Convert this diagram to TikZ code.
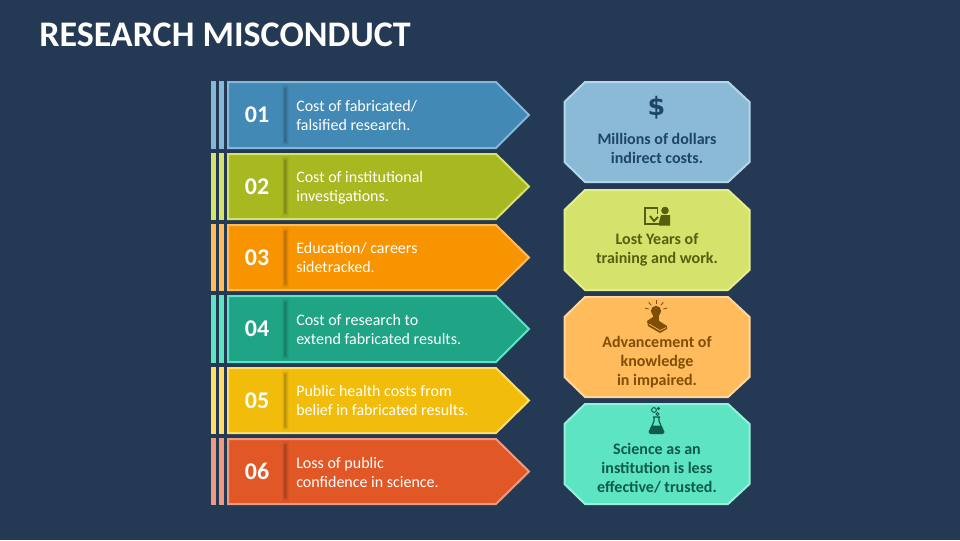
\documentclass[tikz,border=0pt]{standalone}
\usepackage{fontspec}
\setmainfont{Carlito}
\newfontfamily\iconfont{DejaVu Sans}
\definecolor{bg}{HTML}{243A54}
\definecolor{fa}{HTML}{4389B5}\definecolor{ba}{HTML}{85B8D6}
\definecolor{fb}{HTML}{A8B820}\definecolor{bb}{HTML}{D5E26B}
\definecolor{fc}{HTML}{F79400}\definecolor{bc}{HTML}{FFBB5C}
\definecolor{fd}{HTML}{1FA586}\definecolor{bd}{HTML}{5DE4C3}
\definecolor{fe}{HTML}{F2BC0A}\definecolor{be}{HTML}{FFDD66}
\definecolor{ff}{HTML}{E15726}\definecolor{bf}{HTML}{EE9A80}
\definecolor{oa}{HTML}{8ABAD6}\definecolor{la}{HTML}{B5D6EA}\definecolor{ta}{HTML}{1F4565}
\definecolor{ob}{HTML}{D5E26B}\definecolor{lb}{HTML}{E5EE8F}\definecolor{tb}{HTML}{55600F}
\definecolor{oc}{HTML}{FFBB5C}\definecolor{lc}{HTML}{FFD79A}\definecolor{tc}{HTML}{7F4F05}
\definecolor{od}{HTML}{5DE4C3}\definecolor{ld}{HTML}{97F0DA}\definecolor{td}{HTML}{0F5A48}
\tikzset{
  x=0.75pt,y=-0.75pt,
  arrowbox/.style={line width=1.5pt,miter limit=10},
  octa/.style={line width=1.5pt,line join=miter},
  numtext/.style={text=white,font=\fontsize{18}{20}\bfseries\selectfont,inner sep=0pt},
  bodytext/.style={text=white,font=\fontsize{12}{14.25}\selectfont,align=left,anchor=west,inner sep=0pt},
  octatext/.style={font=\fontsize{12}{14.25}\bfseries\selectfont,align=center,inner sep=0pt},
}
\newcommand{\rowitem}[8]{%
 \fill[#4] (211,#1-1) rectangle (216,#2+1);
 \fill[#4] (219,#1-1) rectangle (224,#2+1);
 \draw[arrowbox,draw=#4,fill=#3] (228,#1) -- (496,#1) -- (529,{(#1+#2)/2}) -- (496,#2) -- (228,#2) -- cycle;
 \foreach \w/\o/\e in {7/0.03/0,5/0.05/4,3/0.08/6,1.5/0.08/8}{
   \fill[black,opacity=\o] (285-\w/2,#1+2+\e/2) rectangle (285+\w/2,#2-2-\e/2);
 }
 \node[numtext] (num#7) at (257,{(#1+#2)/2}) {#5};
 \node[bodytext] (txt#7) at (296,#8) {#6};
}
\newcommand{\octagon}[4]{%
 \draw[octa,draw=#4,fill=#3] (585,#1) -- (728,#1) -- (749.5,#1+20) -- (749.5,#2-20) -- (728,#2) -- (585,#2) -- (564.5,#2-20) -- (564.5,#1+20) -- cycle;
}
\begin{document}
\begin{tikzpicture}
\useasboundingbox (0,0) rectangle (960,540);
\fill[bg] (0,0) rectangle (960,540);
\node[anchor=west,inner sep=0pt,text=white,font=\fontsize{27}{30}\bfseries\selectfont] (title) at (39,34.5) {RESEARCH MISCONDUCT};

\rowitem{82}{148}{fa}{ba}{01}{Cost of fabricated/\\falsified research.}{a}{115.5}
\rowitem{154}{219}{fb}{bb}{02}{Cost of institutional\\investigations.}{b}{187.5}
\rowitem{225}{290}{fc}{bc}{03}{Education/ careers\\sidetracked.}{c}{258}
\rowitem{296}{362}{fd}{bd}{04}{Cost of research to\\extend fabricated results.}{d}{329.5}
\rowitem{368}{433}{fe}{be}{05}{Public health costs from\\belief in fabricated results.}{e}{400.5}
\rowitem{439}{504}{ff}{bf}{06}{Loss of public\\confidence in science.}{f}{472}

\octagon{82}{182}{oa}{la}
\octagon{190}{290}{ob}{lb}
\octagon{297}{397}{oc}{lc}
\octagon{404}{504}{od}{ld}

% dollar icon
\node[inner sep=0pt,text=ta,font=\fontsize{19}{20}\iconfont\bfseries\selectfont] (dollar) at (656.5,108) {\$};
\node[octatext,text=ta] (ota) at (657,148.5) {Millions of dollars\\indirect costs.};

% presentation icon
\draw[tb,line width=1.4pt] (657.5,214) -- (657.5,208) -- (645,208) -- (645,224) -- (660,224);
\draw[tb,line width=1.4pt] (650,216) -- (654,221) -- (658,217);
\fill[tb] (665,210.5) circle (3.8);
\fill[tb] (661,215) -- (670,215) -- (670,225.5) -- (659,225.5) -- (659,222) -- cycle;
\node[octatext,text=tb] (otb) at (657,249.5) {Lost Years of\\training and work.};

% bulb and book icon
\fill[tc] (656,311) circle (5.2);
\fill[tc] (653,314) rectangle (659,322);
\foreach \a in {-165,-130,-90,-50,-15}{
  \draw[tc,line width=0.6pt] (656,311) ++({7.5*cos(\a)},{7.5*sin(\a)}) -- ++({4*cos(\a)},{4*sin(\a)});
}
\fill[tc] (647,321) -- (653,317) -- (667,326) -- (667,329) -- (660,333) -- (648,326) -- cycle;
\draw[oc,line width=0.5pt] (649,324) -- (660,330.5) -- (666,327.5);
\node[octatext,text=tc] (otc) at (657,362.5) {Advancement of\\knowledge\\in impaired.};

% flask icon
\draw[td,line width=0.7pt] (654,410) circle (2.4);
\draw[td,line width=0.7pt] (657.5,414) circle (1.5);
\draw[td,line width=0.7pt] (658.5,408.5) circle (1);
\draw[td,line width=0.9pt] (654,417) -- (654,421) -- (650,431) (659,417) -- (659,421) -- (663,431) (653,417) -- (660,417);
\fill[td] (651.5,425.5) -- (661.5,425.5) -- (664.5,432) -- (663,434) -- (650,434) -- (648.5,432) -- cycle;
\node[octatext,text=td] (otd) at (657,468.5) {Science as an\\institution is less\\effective/ trusted.};
\end{tikzpicture}
\end{document}
